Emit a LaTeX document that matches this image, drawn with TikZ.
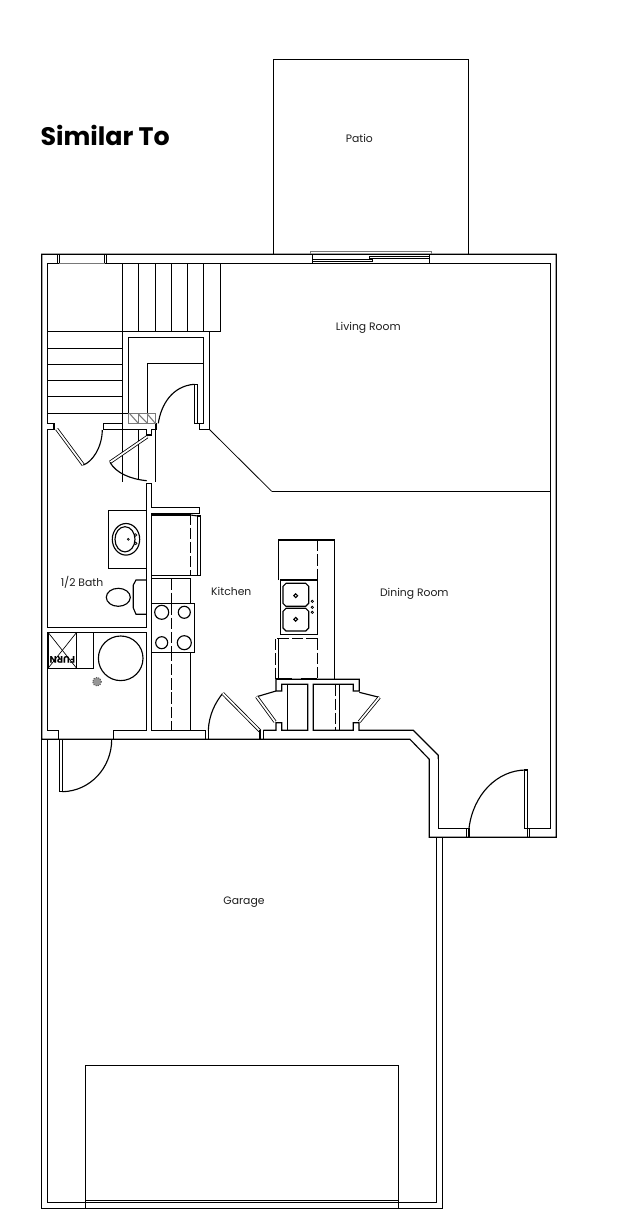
\documentclass[tikz,border=0pt]{standalone}
\usepackage{fontspec}
\setmainfont{Poppins}
\tikzset{every picture/.style={line width=0.75pt}}
\tikzset{wall/.style={line width=0.85pt,line join=miter},
  thinwall/.style={line width=0.6pt},
  dashline/.style={line width=0.85pt,dash pattern=on 8.5pt off 2.2pt},
  leaf/.style={double,double distance=1.3pt,line width=0.6pt},
  glass/.style={color={rgb,255:red,120;green,120;blue,120},line width=0.8pt},
  label/.style={font=\fontsize{8.1}{10}\selectfont,color={rgb,255:red,30;green,30;blue,30}}}

\begin{document}
\begin{tikzpicture}[x=0.75pt,y=0.75pt,yscale=-1,xscale=1]
\useasboundingbox (0,0) rectangle (631,1227);

% Text Node
\node (title) [anchor=base west,inner sep=0pt,font=\bfseries\fontsize{19}{22}\selectfont] at (40,146) {Similar To};
% Text Node
\node (patio) [label] at (359.3,138) {Patio};
% Text Node
\node (living) [label] at (368.3,327.5) {Living Room};
% Text Node
\node (dining) [label] at (414.3,594) {Dining Room};
% Text Node
\node (kitchen) [label] at (231.3,591) {Kitchen};
% Text Node
\node (bath) [label] at (82,582) {1/2 Bath};
% Text Node
\node (garage) [label] at (244,902) {Garage};
% Text Node
\node (furn) [inner sep=0pt,rotate=180,font=\bfseries\fontsize{7.2}{8}\selectfont] at (62.5,660) {FURN};

% Patio
\draw [wall] (273.3,254.3) -- (273.3,59.3) -- (468.3,59.3) -- (468.3,254.3) ;

% Outer Wall
\draw [wall] (41.7,739.3) -- (41.7,254.3) -- (556.3,254.3) -- (556.3,837.3) -- (429.3,837.3) -- (429.3,759.3) -- (410,739.3) -- (41.7,739.3) ;
% Inner Wall Top
\draw [wall] (47.3,423.3) -- (47.3,263.3) -- (550.3,263.3) -- (550.3,828.3) -- (524.3,828.3) ;
% Garage Wall
\draw [wall] (41.7,739.3) -- (41.7,1208.3) -- (442.7,1208.3) -- (442.7,837.3) ;
\draw [wall] (47.3,739.3) -- (47.3,1202.7) -- (436.5,1202.7) -- (436.5,837.3) ;
% Garage Door
\draw [wall] (85.3,1208.3) -- (85.3,1065.3) -- (398.3,1065.3) -- (398.3,1208.3) ;
\draw [wall] (85.3,1200.5) -- (398.3,1200.5) ;

% Upper Left Window
\draw [wall] (57.3,254.3) -- (57.3,263.3) ;
\draw [wall] (59.3,254.3) -- (59.3,263.3) ;
\draw [wall] (104.7,254.3) -- (104.7,263.3) ;
\draw [wall] (106.7,254.3) -- (106.7,263.3) ;
\draw [glass] (59.3,263.3) -- (104.7,263.3) ;
% Slider
\draw [glass] (310.7,254.3) -- (310.7,251.7) -- (431.7,251.7) -- (431.7,254.3) ;
\draw [wall] (312.3,254.3) -- (312.3,263.3) ;
\draw [wall] (429.3,254.3) -- (429.3,263.3) ;
\draw [thinwall] (312.3,259) -- (372.7,259) -- (372.7,261.5) -- (312.3,261.5) ;
\draw [thinwall] (429.3,256) -- (369.3,256) -- (369.3,258.5) -- (429.3,258.5) ;

% Stair Top
\draw [wall] (47.3,331.3) -- (220.7,331.3) -- (220.7,263.3) ;
\draw [wall] (122.3,263.3) -- (122.3,481.7) ;
\draw [wall] (138.3,263.3) -- (138.3,331.3) ;
\draw [wall] (155.3,263.3) -- (155.3,331.3) ;
\draw [wall] (171.3,263.3) -- (171.3,331.3) ;
\draw [wall] (187.3,263.3) -- (187.3,331.3) ;
\draw [wall] (203.3,263.3) -- (203.3,331.3) ;
% Stair Left
\draw [wall] (47.3,348.3) -- (122.3,348.3) ;
\draw [wall] (47.3,364.3) -- (122.3,364.3) ;
\draw [wall] (47.3,380.3) -- (122.3,380.3) ;
\draw [wall] (47.3,396.3) -- (122.3,396.3) ;
\draw [wall] (47.3,413.3) -- (128.3,413.3) ;
\draw [wall] (138.3,429.3) -- (138.3,480) ;
\draw [wall] (155.3,423.3) -- (155.3,481.7) ;
% Stair Closet
\draw [wall] (128.3,423.3) -- (128.3,337.3) -- (203.3,337.3) -- (203.3,423.3) -- (194.3,423.3) -- (194.3,384.3) -- (197.7,384.3) -- (197.7,423.3) ;
\draw [wall] (147.3,413.3) -- (147.3,363.3) -- (203.3,363.3) ;
\draw [wall] (209.3,331.3) -- (209.3,429.3) -- (199.3,429.3) -- (199.3,423.3) ;
\draw [line width=0.6pt] (209.3,429.3) -- (271.7,491.3) ;
\draw [wall] (271.7,491.3) -- (550.3,491.3) ;
% Hatch
\draw [glass] (128.3,413.3) rectangle (155.3,423.3) ;
\draw [glass] (138.3,413.3) -- (138.3,423.3) ;
\draw [glass] (147.3,413.3) -- (147.3,423.3) ;
\draw [glass] (130,414) -- (138.3,423.3) ;
\draw [glass] (138.3,414) -- (147.3,423.3) ;
\draw [glass] (147.3,414) -- (155.3,423.3) ;

% Bath Walls
\draw [wall] (47.3,423.3) -- (54,423.3) -- (54,429.3) -- (47.3,429.3) -- (47.3,627.3) -- (146.7,627.3) -- (146.7,483.3) -- (151.7,483.3) -- (151.7,507.3) -- (199.3,507.3) -- (199.3,513.3) -- (151.7,513.3) -- (151.7,730.3) -- (205.7,730.3) ;
\draw [wall] (122.3,423.3) -- (103.3,423.3) -- (103.3,429.3) -- (146.7,429.3) -- (146.7,435) -- (151.7,435) -- (151.7,429.3) -- (156.7,429.3) -- (156.7,423.3) ;
% Closet Walls
\draw [wall] (58.3,739.3) -- (58.3,730.3) -- (47.3,730.3) -- (47.3,632.3) -- (146.7,632.3) -- (146.7,730.3) -- (113.3,730.3) -- (113.3,739.3) ;

% Door Leaves
\draw [leaf] (56.7,429) -- (83.3,465) ;
\draw [wall] (83.3,465) .. controls (92,462) and (102,448) .. (102.3,430) ;
\draw [leaf] (147.3,436.7) -- (110,462.3) ;
\draw [wall] (110,462.3) .. controls (116,473) and (130,479) .. (146.7,480.7) ;
\draw [wall] (158.3,423.3) .. controls (161,405) and (172,386) .. (194.3,384.3) ;
\draw [wall] (59.3,739.3) -- (59.3,791.7) -- (62.7,791.7) -- (62.7,739.3) ;
\draw [wall] (62.7,791.7) .. controls (90,791) and (111.7,768) .. (111.7,739.3) ;
\draw [wall] (205.7,730.3) -- (205.7,739.3) ;
\draw [wall] (208.3,730.3) -- (208.3,739.3) ;
\draw [wall] (208.3,730.3) .. controls (209,715) and (215,703) .. (222.7,693.3) ;
\draw [leaf] (222.7,693.3) -- (260,731) ;
\draw [wall] (260,730.3) -- (260,739.3) ;
\draw [wall] (263.3,730.3) -- (263.3,739.3) ;
\draw [wall] (466.3,828.3) -- (466.3,837.3) ;
\draw [wall] (469,828.3) -- (469,837.3) ;
\draw [wall] (438.3,759) -- (438.3,828.3) -- (469,828.3) ;
\draw [wall] (469,828.3) .. controls (473,795) and (497,770) .. (526,770) ;
\draw [wall] (524.3,828.3) -- (524.3,770) -- (527.7,770) -- (527.7,837.3) ;
\draw [wall] (529.7,828.3) -- (529.7,837.3) ;

% Kitchen Counter
\draw [wall] (151.7,515) -- (190.7,515) ;
\draw [wall] (151.7,575.3) -- (200.7,575.3) -- (200.7,516) -- (197.7,516) -- (197.7,575.3) ;
\draw [wall] (190.7,515) -- (197.7,516) ;
\draw [dashline] (190.7,513.3) -- (190.7,575.3) ;
\draw [wall] (151.7,578.3) -- (190.7,578.3) -- (190.7,603.3) ;
\draw [wall] (190.7,652.3) -- (190.7,730.3) ;
\draw [dashline] (171.3,578.3) -- (171.3,730.3) ;
% Range
\draw [wall,fill=white] (151.7,603.3) rectangle (194.3,652.3) ;
\draw [dashline] (171.3,603.3) -- (171.3,652.3) ;
\draw [wall] (161.7,612.3) circle [x radius= 7, y radius= 7] ;
\draw [wall] (184.3,612.3) circle [x radius= 6, y radius= 6] ;
\draw [wall] (161.7,642.7) circle [x radius= 6, y radius= 6] ;
\draw [wall] (184.3,642.7) circle [x radius= 7, y radius= 7] ;

% Bath Fixtures
\draw [wall] (146.7,510.3) -- (108.3,510.3) -- (108.3,568.3) -- (146.7,568.3) ;
\draw [wall] (126,539.3) circle [x radius= 13.7, y radius= 15.8] ;
\draw [wall] (125,539.3) circle [x radius= 10, y radius= 12.6] ;
\draw [line width=0.5pt] (128.3,539.3) circle [x radius= 1, y radius= 1] ;
\draw [line width=0.5pt] (135.7,535) circle [x radius= 1.3, y radius= 1.3] ;
\draw [line width=0.5pt] (135.7,543.3) circle [x radius= 1.3, y radius= 1.3] ;
\draw [wall] (146.7,580) -- (136,580) -- (133.3,585) -- (133.3,608) -- (136,614.3) -- (146.7,614.3) ;
\draw [wall] (118.3,597.3) circle [x radius= 12, y radius= 9] ;

% Furnace
\draw [wall] (48,632.3) rectangle (76.7,668.3) ;
\draw [line width=1.1pt] (48,668.3) -- (76.7,668.3) ;
\draw [line width=0.5pt] (48,632.3) -- (76.7,668.3) ;
\draw [line width=0.5pt] (76.7,632.3) -- (48,668.3) ;
\draw [wall] (76.7,668.3) -- (93.3,668.3) -- (93.3,632.3) ;
\draw [wall] (120.7,658.3) circle [x radius= 22.3, y radius= 22.3] ;
\draw [densely dotted,color={rgb,255:red,90;green,90;blue,90},fill={rgb,255:red,150;green,150;blue,150}] (97,681.7) circle [x radius= 4.3, y radius= 4.3] ;

% Island
\draw [wall] (278.3,679.3) -- (278.3,638.3) ;
\draw [wall] (278.3,580) -- (278.3,540) -- (334.7,540) -- (334.7,679.3) ;
\draw [dashline] (317.3,540) -- (317.3,580) ;
\draw [dashline] (317.3,638.3) -- (317.3,679.3) ;
% Sink
\draw [wall] (280.3,580) rectangle (317.3,634.7) ;
\draw [wall] (286,583.3) -- (305.7,583.3) -- (308.7,586.3) -- (308.7,603.3) -- (305.7,606.3) -- (286,606.3) -- (283,603.3) -- (283,586.3) -- cycle ;
\draw [wall] (286,608.3) -- (305.7,608.3) -- (308.7,611.3) -- (308.7,628) -- (305.7,631) -- (286,631) -- (283,628) -- (283,611.3) -- cycle ;
\draw [wall] (295.7,595.7) circle [x radius= 1.9, y radius= 1.9] ;
\draw [wall] (295.7,619.3) circle [x radius= 1.9, y radius= 1.9] ;
\draw [line width=0.5pt] (312.3,601.3) circle [x radius= 1.2, y radius= 1.2] ;
\draw [line width=0.5pt] (312.3,607.3) circle [x radius= 1.2, y radius= 1.2] ;
\draw [line width=0.5pt] (312.3,612.3) circle [x radius= 1.2, y radius= 1.2] ;
% Dishwasher
\draw [dashline] (317.3,638.3) -- (275.3,638.3) -- (275.3,679.3) ;
\draw [line width=1.2pt] (276,678.5) -- (291.7,678.5) ;
\draw [line width=1.2pt] (301,678.5) -- (317.3,678.5) ;

% Pantry
\draw [wall] (263.3,730.3) -- (276,730.3) -- (276,722.7) -- (281.7,722.7) -- (281.7,730.3) -- (307.7,730.3) -- (307.7,684.3) -- (281.7,684.3) -- (281.7,691) -- (276,691) -- (276,679.3) -- (359.3,679.3) -- (359.3,691) -- (353.3,691) -- (353.3,684.3) -- (313.3,684.3) -- (313.3,730.3) -- (353.3,730.3) -- (353.3,722.7) -- (359,722.7) -- (359,730.3) -- (413.3,730.3) -- (438.3,755.3) -- (438.3,759) ;
\draw [wall] (287.3,684.3) -- (287.3,730.3) ;
\draw [wall] (339.7,684.3) -- (339.7,730.3) ;
\draw [dashline] (335.3,684.3) -- (335.3,730.3) ;
\draw [wall] (276,691) -- (256.7,696.7) ;
\draw [leaf] (256.7,696.7) -- (275,721.7) ;
\draw [wall] (359.3,692.3) -- (379.3,697.3) ;
\draw [leaf] (379.3,697.3) -- (359.3,721.7) ;

\end{tikzpicture}
\end{document}
